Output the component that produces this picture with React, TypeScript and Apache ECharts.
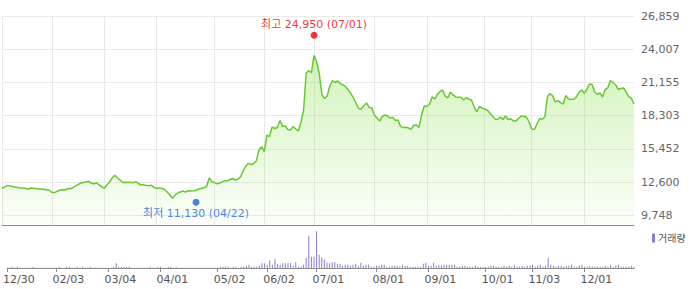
import React, { useEffect, useRef } from "react";
import * as echarts from "echarts";

// ---- data ----
const KRX_HOLIDAYS = [
  "2024-12-31", "2025-01-01", "2025-01-27", "2025-01-28", "2025-01-29", "2025-01-30",
  "2025-03-03", "2025-05-01", "2025-05-05", "2025-05-06", "2025-06-03", "2025-06-06",
  "2025-08-15", "2025-10-03", "2025-10-06", "2025-10-07", "2025-10-08", "2025-10-09",
  "2025-12-25",
];
const FIRST_DAY = "2024-12-30";
const LAST_DAY = "2025-12-29";

const xTickLabels = ["12/30", "02/03", "03/04", "04/01", "05/02", "06/02", "07/01", "08/01", "09/01", "10/01", "11/03", "12/01"];
const yTickLabels = ["9,748", "12,600", "15,452", "18,303", "21,155", "24,007", "26,859"];

const closePrices = [
  12070, 12180, 12320, 12260, 12220, 12180, 12140, 12090, 12090, 12050,
  12010, 12090, 12050, 12050, 12010, 12010, 11980, 11950, 11900, 11720,
  11690, 11810, 11900, 11950, 11920, 12030, 12030, 12120, 12260, 12390,
  12520, 12560, 12610, 12670, 12520, 12440, 12550, 12350, 12220, 12070,
  12350, 12610, 12950, 13180, 12950, 12780, 12560, 12580, 12560, 12580,
  12550, 12630, 12480, 12350, 12380, 12310, 12290, 12320, 12140, 12070,
  12070, 12070, 11960, 11750, 11490, 11210, 11490, 11660, 11750, 11840,
  11750, 11860, 11840, 11860, 11900, 12010, 12050, 12120, 12200, 12950,
  12650, 12550, 12460, 12520, 12610, 12720, 12720, 12820, 12910, 12780,
  12870, 13060, 13600, 13980, 14210, 14110, 14200, 14440, 15360, 15640,
  15210, 16640, 16500, 17330, 17200, 17290, 17890, 17360, 17420, 17110,
  17070, 17360, 17160, 16990, 17760, 18790, 21970, 22180, 21990, 23470,
  22910, 21880, 20080, 19780, 19990, 20850, 21320, 21150, 21280, 21060,
  20940, 20810, 20510, 20220, 19820, 19390, 18920, 18870, 19180, 19390,
  19000, 18990, 18360, 18100, 17840, 18230, 18360, 18270, 18100, 18160,
  17890, 17930, 17360, 17290, 17300, 17240, 17130, 17480, 17500, 17300,
  18360, 19130, 19090, 19260, 19910, 19730, 20140, 20360, 20510, 19990,
  19840, 20330, 20080, 19910, 19880, 19880, 19650, 19840, 19730, 19650,
  19090, 18620, 19090, 18960, 18870, 18790, 18530, 18270, 18020, 17970,
  18190, 17970, 18270, 17970, 18020, 17840, 17840, 18080, 18270, 18230,
  18190, 17760, 17160, 17110, 17590, 18060, 17990, 18190, 19950, 20210,
  19990, 19480, 19600, 19430, 19300, 20030, 19730, 19710, 19710, 19910,
  20290, 20510, 20220, 20550, 21020, 20980, 20330, 20140, 20250, 19910,
  20550, 20680, 21320, 21150, 20940, 20550, 20640, 20680, 20330, 19930,
  19780, 19300,
];

// volume, thousand shares
const volumes = [
  20, 20, 130, 20, 130, 20, 20, 20, 20, 20,
  130, 20, 20, 20, 20, 20, 20, 20, 20, 20,
  130, 20, 20, 130, 130, 20, 20, 130, 20, 130,
  20, 20, 130, 20, 20, 20, 20, 20, 20, 20,
  20, 130, 470, 130, 130, 130, 130, 130, 20, 20,
  20, 20, 20, 20, 20, 130, 20, 20, 130, 130,
  20, 20, 130, 130, 20, 130, 20, 20, 20, 20,
  20, 20, 20, 20, 20, 20, 20, 20, 20, 20,
  20, 20, 130, 130, 130, 130, 20, 130, 130, 20,
  130, 130, 230, 330, 130, 130, 130, 230, 470, 470,
  330, 770, 330, 930, 430, 330, 470, 470, 470, 470,
  230, 570, 130, 130, 330, 1030, 3230, 1130, 1130, 3670,
  1330, 1050, 830, 530, 470, 570, 570, 430, 430, 230,
  330, 330, 230, 330, 430, 230, 530, 230, 330, 330,
  130, 130, 230, 230, 330, 330, 130, 130, 230, 230,
  230, 130, 330, 230, 230, 130, 130, 130, 130, 130,
  430, 530, 230, 230, 530, 230, 330, 230, 330, 330,
  330, 330, 330, 130, 130, 230, 230, 130, 130, 130,
  230, 130, 130, 130, 130, 130, 230, 230, 130, 130,
  130, 230, 130, 230, 130, 330, 130, 130, 230, 130,
  230, 230, 330, 130, 230, 330, 130, 230, 1030, 330,
  230, 130, 230, 230, 130, 230, 230, 330, 130, 130,
  230, 330, 130, 130, 230, 130, 130, 130, 130, 130,
  230, 130, 330, 130, 230, 330, 130, 130, 130, 130,
  230, 130,
];

const highPoint = { label: "최고", date: "07/01", value: 24950 };
const lowPoint = { label: "최저", date: "04/22", value: 11130 };

const Y_TOP = 26859;
const Y_BOTTOM = 8916;
const VOL_MAX = 4200;

function tradingDates(): string[] {
  const out: string[] = [];
  const [sy, sm, sd] = FIRST_DAY.split("-").map(Number);
  const [ey, em, ed] = LAST_DAY.split("-").map(Number);
  const d = new Date(Date.UTC(sy, sm - 1, sd));
  const end = Date.UTC(ey, em - 1, ed);
  while (d.getTime() <= end) {
    const dow = d.getUTCDay();
    const iso = d.toISOString().slice(0, 10);
    if (dow !== 0 && dow !== 6 && !KRX_HOLIDAYS.includes(iso)) {
      out.push(iso.slice(5, 7) + "/" + iso.slice(8, 10));
    }
    d.setUTCDate(d.getUTCDate() + 1);
  }
  return out;
}

const fmt = (n: number) => String(n).replace(/\B(?=(\d{3})+(?!\d))/g, ",");

const FONT = "'DejaVu Sans', 'Noto Sans CJK KR', sans-serif";

export default function App() {
  const ref = useRef<HTMLDivElement>(null);
  useEffect(() => {
    if (!ref.current) return;
    const chart = echarts.init(ref.current, null, { renderer: "svg" });
    const dates = tradingDates();
    const tickSet = new Set(xTickLabels);
    const isTick = (_i: number, v: string) => tickSet.has(v);
    const gridColor = "#e9e9e9";
    const axisColor = "#8c8c8c";

    chart.setOption({
      animation: false,
      textStyle: { fontFamily: FONT },
      grid: [
        { left: 2, right: 66, top: 16, height: 209 },
        { left: 2, right: 66, top: 16, height: 199.3 },
        { left: 2, right: 66, top: 226, height: 42 },
      ],
      legend: {
        data: ["거래량"],
        left: 652,
        top: 233,
        padding: 0,
        icon: "rect",
        itemWidth: 3,
        itemHeight: 9,
        selectedMode: false,
        textStyle: { fontSize: 10, color: "#555", fontFamily: FONT, padding: [0, 0, 0, -2] },
      },
      xAxis: [
        {
          type: "category", gridIndex: 0, data: dates, boundaryGap: false,
          axisLine: { show: true, lineStyle: { color: axisColor, width: 1 } },
          axisTick: { show: false }, axisLabel: { show: false },
          splitLine: { show: true, interval: isTick, lineStyle: { color: gridColor, width: 1 } },
        },
        { type: "category", gridIndex: 1, data: dates, boundaryGap: false, show: false },
        {
          type: "category", gridIndex: 2, data: dates, boundaryGap: false,
          axisLine: { show: true, lineStyle: { color: axisColor, width: 1 } },
          axisTick: { show: true, interval: isTick, length: 4, lineStyle: { color: axisColor } },
          axisLabel: {
            show: true, interval: isTick, align: "left", padding: [0, 0, 0, -4],
            margin: 6, fontSize: 11, color: "#555", fontFamily: FONT,
            hideOverlap: false,
          },
          splitLine: { show: false },
        },
      ],
      yAxis: [
        { type: "value", gridIndex: 0, min: Y_BOTTOM, max: Y_TOP, show: false },
        {
          type: "value", gridIndex: 1, min: 0, max: yTickLabels.length - 1, interval: 1,
          position: "right",
          axisLine: { show: false }, axisTick: { show: false },
          axisLabel: {
            margin: 7, fontSize: 11, color: "#666", fontFamily: FONT,
            formatter: (v: number) => yTickLabels[Math.round(v)] ?? "",
          },
          splitLine: { show: true, lineStyle: { color: gridColor, width: 1 } },
        },
        { type: "value", gridIndex: 2, min: 0, max: VOL_MAX, show: false },
      ],
      series: [
        {
          type: "line", name: "종가", xAxisIndex: 0, yAxisIndex: 0,
          data: closePrices, symbol: "none", smooth: false,
          lineStyle: { color: "#66c932", width: 1.5 },
          areaStyle: {
            origin: "start",
            color: new echarts.graphic.LinearGradient(0, 0, 0, 1, [
              { offset: 0, color: "rgba(140,225,80,0.55)" },
              { offset: 1, color: "rgba(140,225,80,0.05)" },
            ]),
          },
          z: 3,
        },
        {
          type: "scatter", xAxisIndex: 0, yAxisIndex: 0, symbolSize: 7, z: 5,
          data: [
            {
              value: [highPoint.date, highPoint.value],
              symbolOffset: [0, -3],
              itemStyle: { color: "#f00000" },
              label: {
                show: true, position: "top", distance: 2,
                formatter: `${highPoint.label} ${fmt(highPoint.value)} (${highPoint.date})`,
                color: "#f00000", fontSize: 11, fontFamily: FONT,
              },
            },
            {
              value: [lowPoint.date, lowPoint.value],
              symbolOffset: [0, 3],
              itemStyle: { color: "#1a66d6" },
              label: {
                show: true, position: "bottom", distance: 2,
                formatter: `${lowPoint.label} ${fmt(lowPoint.value)} (${lowPoint.date})`,
                color: "#1a66d6", fontSize: 11, fontFamily: FONT,
              },
            },
          ],
        },
        {
          type: "bar", name: "거래량", xAxisIndex: 2, yAxisIndex: 2,
          data: volumes, barWidth: 1,
          itemStyle: { color: "#9479cc" },
        },
      ],
    });
    return () => chart.dispose();
  }, []);
  return <div ref={ref} style={{ position: "fixed", left: 0, top: 0, width: 700, height: 289, background: "#fff" }} />;
}
